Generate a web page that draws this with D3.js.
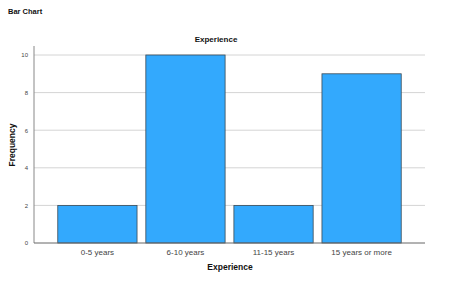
<!DOCTYPE html>
<html>
<head>
<meta charset="utf-8">
<script src="https://cdn.jsdelivr.net/npm/d3@7"></script>
<style>
  body { margin: 0; background: #fff; }
  text { font-family: "Liberation Sans", Arial, sans-serif; }
</style>
</head>
<body>
<svg width="474" height="289"></svg>
<script>
let categorias = ["0-5 years", "6-10 years", "11-15 years", "15 years or more"];
let frequencias = [2, 10, 2, 9];
let ticks_y = [0, 2, 4, 6, 8, 10];

let $svg = d3.select("svg");

let esq = 34, dir = 425, topo = 55, base = 243;

let x = d3.scaleBand()
  .domain(categorias)
  .range([esq, dir])
  .paddingInner(0.1)
  .paddingOuter(0.27);

let y = d3.scaleLinear()
  .domain([0, 10])
  .range([base, topo]);

// grade
$svg.selectAll("line.grade").data(ticks_y.filter(d => d > 0))
  .enter().append("line")
  .attr("x1", esq).attr("x2", dir)
  .attr("y1", d => y(d)).attr("y2", d => y(d))
  .attr("stroke", "#d4d4d4").attr("stroke-width", 1);

// barras
$svg.selectAll("rect.barra").data(categorias)
  .enter().append("rect")
  .attr("x", d => x(d))
  .attr("y", (d, i) => y(frequencias[i]))
  .attr("width", x.bandwidth())
  .attr("height", (d, i) => base - y(frequencias[i]))
  .attr("fill", "#33a9fd")
  .attr("stroke", "#3b4a55")
  .attr("stroke-width", 0.8);

// eixo y
let eixo_y = $svg.append("g")
  .attr("transform", `translate(${esq},0)`)
  .call(d3.axisLeft(y).tickValues(ticks_y).tickSize(0).tickPadding(6));
eixo_y.select(".domain").remove();
eixo_y.selectAll("text").attr("font-size", 6).attr("fill", "#444");
$svg.append("line")
  .attr("x1", esq).attr("x2", esq).attr("y1", 46).attr("y2", base)
  .attr("stroke", "#888").attr("stroke-width", 1);

// eixo x
let eixo_x = $svg.append("g")
  .attr("transform", `translate(0,${base})`)
  .call(d3.axisBottom(x).tickSize(0).tickPadding(6));
eixo_x.select(".domain").remove();
eixo_x.selectAll("text").attr("font-size", 8).attr("fill", "#444");
$svg.append("line")
  .attr("x1", esq).attr("x2", dir).attr("y1", base).attr("y2", base)
  .attr("stroke", "#666").attr("stroke-width", 1);

// textos
$svg.append("text").attr("x", 8).attr("y", 14)
  .attr("font-size", 7.5).attr("font-weight", "bold").attr("fill", "#111")
  .text("Bar Chart");

$svg.append("text").attr("x", 216).attr("y", 42)
  .attr("text-anchor", "middle").attr("font-size", 8).attr("font-weight", "bold").attr("fill", "#111")
  .text("Experience");

$svg.append("text").attr("x", 230).attr("y", 270)
  .attr("text-anchor", "middle").attr("font-size", 8.5).attr("font-weight", "bold").attr("fill", "#111")
  .text("Experience");

$svg.append("text")
  .attr("transform", "translate(15,145) rotate(-90)")
  .attr("text-anchor", "middle").attr("font-size", 8.5).attr("font-weight", "bold").attr("fill", "#111")
  .text("Frequency");
</script>
</body>
</html>
